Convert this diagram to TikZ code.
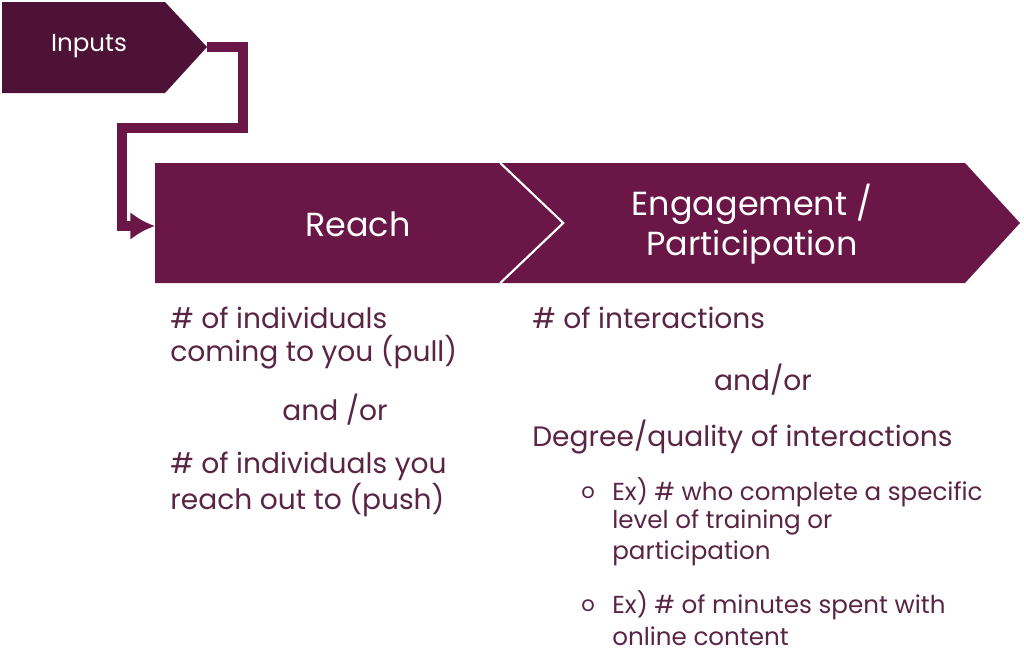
\documentclass[tikz,border=0pt]{standalone}
\usepackage{fontspec}
\setmainfont{Poppins}
\usetikzlibrary{arrows.meta}
\definecolor{plum}{HTML}{6A1747}
\definecolor{darkplum}{HTML}{4E1236}
\definecolor{txt}{HTML}{5A2444}
\tikzset{
  body/.style={text=txt,font=\fontsize{16}{19}\selectfont,inner sep=0pt},
  head/.style={text=white,font=\fontsize{19}{23}\selectfont,align=center}
}
\begin{document}
\begin{tikzpicture}[x=0.02cm,y=-0.02cm]
    \useasboundingbox (0,0) rectangle (1024,667);
    % Arrow shapes
    \fill[darkplum] (2,2) -- (165,2) -- (207,47) -- (165,93) -- (2,93) -- cycle;
    \fill[plum] (155,163) -- (500,163) -- (563,223) -- (500,283) -- (155,283) -- cycle;
    \fill[plum] (502,163) -- (965,163) -- (1020,223) -- (965,283) -- (502,283) -- (565,223) -- cycle;
    \draw[white,line width=1pt] (500,163) -- (563,223) -- (500,283);

    \node[text=white,font=\fontsize{14}{17}\selectfont] (inputs) at (89,46) {Inputs};
    \coordinate (intip) at (207,47);
    \coordinate (reachin) at (155,226);
    \node[head] (reach) at (358,224) {Reach};
    \node[head] (engage) at (752,224) {Engagement /\\Participation};

    % Connector
    \draw[plum,line width=6pt,-{Latex[length=14pt,width=16pt]}]
      (intip) -- (243,47) -- (243,128) -- (122,128) -- (122,226) -- (reachin);

    % Reach text
    \node[body,anchor=west] (r1) at (170,318) {\# of individuals};
    \node[body,anchor=west] (r2) at (170,352) {coming to you (pull)};
    \node[body] (r3) at (335,410) {and /or};
    \node[body,anchor=west] (r4) at (170,466) {\# of individuals you};
    \node[body,anchor=west] (r5) at (170,500) {reach out to (push)};

    % Engagement text
    \node[body,anchor=west] (e1) at (532,318) {\# of interactions};
    \node[body] (e2) at (763,380) {and/or};
    \node[body,anchor=west] (e3) at (532,437) {Degree/quality of interactions};
    \node[body,font=\fontsize{12}{14}\selectfont] (b1) at (588,493) {o};
    \node[body,anchor=west,font=\fontsize{14}{17}\selectfont] (e4) at (612,492) {Ex) \# who complete a specific};
    \node[body,anchor=west,font=\fontsize{14}{17}\selectfont] (e5) at (612,522) {level of training or};
    \node[body,anchor=west,font=\fontsize{14}{17}\selectfont] (e6) at (612,553) {participation};
    \node[body,font=\fontsize{12}{14}\selectfont] (b2) at (588,606) {o};
    \node[body,anchor=west,font=\fontsize{14}{17}\selectfont] (e7) at (612,605) {Ex) \# of minutes spent with};
    \node[body,anchor=west,font=\fontsize{14}{17}\selectfont] (e8) at (612,636) {online content};
\end{tikzpicture}
\end{document}
